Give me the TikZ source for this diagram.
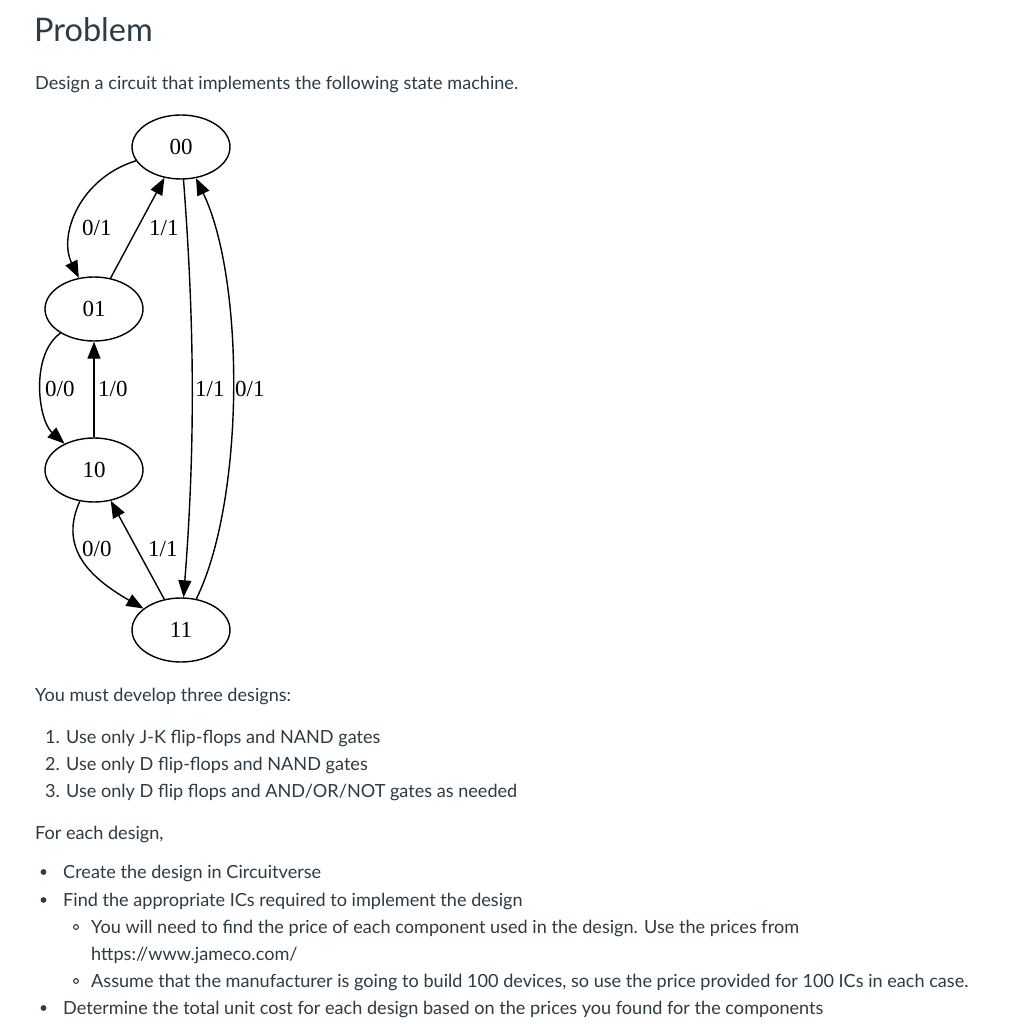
\documentclass[tikz,border=0pt]{standalone}
\usepackage{fontspec}
\usetikzlibrary{shapes.geometric,arrows.meta}
\newfontfamily\lato{Lato}
\newfontfamily\gvfont{Liberation Serif}
\definecolor{txt}{HTML}{2D3B45}
\begin{document}
\begin{tikzpicture}[x=1pt,y=-1pt,
  state/.style={ellipse,draw,line width=1.4pt,minimum width=98pt,minimum height=64pt,inner sep=0pt,font=\gvfont\fontsize{23}{23}\selectfont},
  lbl/.style={anchor=base west,inner sep=0pt,font=\gvfont\fontsize{23}{23}\selectfont},
  edge/.style={line width=1.4pt,-{Triangle[length=17pt,width=13pt]}},
  body/.style={anchor=base west,inner sep=0pt,text=txt,font=\lato\fontsize{18.1}{21}\selectfont},
  dot/.style={fill=txt,draw=none},
  ring/.style={draw=txt,line width=1.1pt}]
\useasboundingbox (0,0) rectangle (1019,1024);
\fill[white] (0,0) rectangle (1019,1024);
% text
\node[body,font=\lato\fontsize{32.5}{36}\selectfont] (title) at (34,42) {Problem};
\node[body] (t1) at (35,90) {Design a circuit that implements the following state machine.};
% states
\node[state] (n00) at (181,147) {00};
\node[state] (n01) at (94,309) {01};
\node[state] (n10) at (94,470) {10};
\node[state] (n11) at (181,630) {11};
% edges
\draw[edge] (n00) .. controls (80,178) and (58,235) .. (n01);
\draw[edge] (n01) -- (n00);
\draw[edge] (n01) .. controls (30,355) and (38,420) .. (n10);
\draw[edge] (n10) -- (n01);
\draw[edge] (n10) .. controls (60,545) and (85,575) .. (n11);
\draw[edge] (n11) -- (n10);
\draw[edge] (n00) .. controls (195,330) and (195,450) .. (n11);
\draw[edge] (n11) .. controls (245,500) and (245,280) .. (n00);
% labels
\node[lbl] (l1) at (82,236) {0/1};
\node[lbl] (l2) at (149,236) {1/1};
\node[lbl] (l3) at (45,396) {0/0};
\node[lbl] (l4) at (98,396) {1/0};
\node[lbl] (l5) at (195,396) {1/1};
\node[lbl] (l6) at (235,396) {0/1};
\node[lbl] (l7) at (82,556) {0/0};
\node[lbl] (l8) at (148,556) {1/1};
% lower text
\node[body] (t2) at (35,701) {You must develop three designs:};
\node[body] (t3) at (45,743) {1. Use only J-K flip-flops and NAND gates};
\node[body] (t4) at (45,770) {2. Use only D flip-flops and NAND gates};
\node[body] (t5) at (45,797) {3. Use only D flip flops and AND/OR/NOT gates as needed};
\node[body] (t6) at (35,839) {For each design,};
\fill[dot] (43.5,872) circle (2.9);
\node[body] (t7) at (63,878) {Create the design in Circuitverse};
\fill[dot] (43.5,900) circle (2.9);
\node[body] (t8) at (63,906) {Find the appropriate ICs required to implement the design};
\draw[ring] (76,927) circle (2.4);
\node[body] (t9) at (91,933) {You will need to find the price of each component used in the design. Use the prices from};
\node[body] (t10) at (91,960) {https://www.jameco.com/};
\draw[ring] (76,981) circle (2.4);
\node[body] (t11) at (91,987) {Assume that the manufacturer is going to build 100 devices, so use the price provided for 100 ICs in each case.};
\fill[dot] (43.5,1008) circle (2.9);
\node[body] (t12) at (63,1014) {Determine the total unit cost for each design based on the prices you found for the components};
\end{tikzpicture}
\end{document}
